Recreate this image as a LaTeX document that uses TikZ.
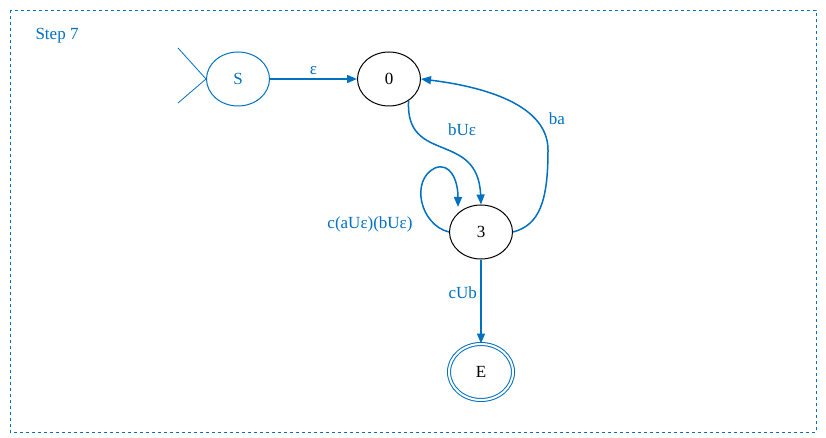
\documentclass[tikz,border=0pt]{standalone}
\usepackage{fontspec}
\setmainfont{Liberation Serif}
\usetikzlibrary{arrows.meta,shapes.geometric}
\definecolor{bl}{HTML}{0070C0}
\begin{document}
\begin{tikzpicture}[x=1pt,y=-1pt,
 st/.style={ellipse,draw,line width=1pt,minimum width=63pt,minimum height=54pt,inner sep=0pt,font=\fontsize{17}{19}\selectfont},
 ed/.style={draw=bl,line width=1.5pt,-{Triangle[length=10pt,width=8pt]}},
 lb/.style={text=bl,font=\fontsize{17}{19}\selectfont}]
\useasboundingbox (0,0) rectangle (826,438);
\draw[bl,dashed,line width=0.6pt] (10,10) rectangle (816,432);
\node[lb,anchor=west] (title) at (32,36) {Step 7};
\node[st,draw=bl,text=bl] (S) at (238,79) {S};
\node[st] (n0) at (389,79) {0};
\node[st] (n3) at (481,232) {3};
\node[st,draw=bl,text=black,double=white,double distance=2pt,minimum width=64pt,minimum height=56pt] (E) at (481,372) {E};
\coordinate (a1) at (178,48);
\coordinate (a2) at (178,103);
\draw[bl,line width=0.8pt] (a1) -- (S.west) -- (a2);
\draw[ed] (S) -- node[lb,above] {ε} (n0);
\draw[ed] (n0.-48) .. controls (405,165) and (478,130) .. (n3.north);
\node[lb] (lbu) at (462,130) {bUε};
\draw[ed] (n3.east) .. controls (540,225) and (548,200) .. (548,150) .. controls (548,100) and (470,85) .. (n0.east);
\node[lb] (lba) at (557,119) {ba};
\draw[ed] (n3.west) .. controls (420,225) and (410,180) .. (435,168) .. controls (450,162) and (458,180) .. (458,207);
\node[lb] (lc) at (370,224) {c(aUε)(bUε)};
\draw[ed] (n3) -- node[lb,left,pos=0.4] {cUb} (E);
\end{tikzpicture}
\end{document}
